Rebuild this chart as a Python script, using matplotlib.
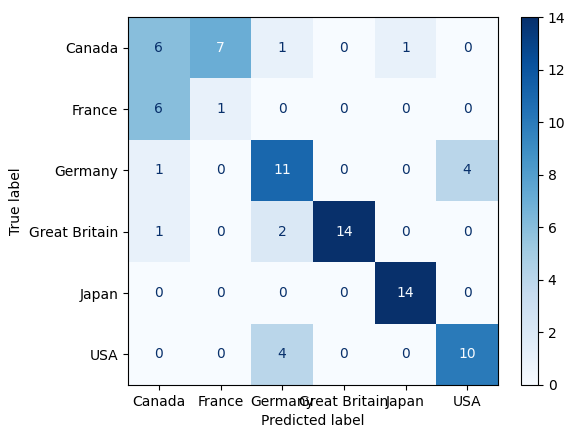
import matplotlib
matplotlib.use("Agg")
import matplotlib.pyplot as plt
import numpy as np

labels = ["Canada", "France", "Germany", "Great Britain", "Japan", "USA"]
cm = np.array([
    [6, 7, 1, 0, 1, 0],
    [6, 1, 0, 0, 0, 0],
    [1, 0, 11, 0, 0, 4],
    [1, 0, 2, 14, 0, 0],
    [0, 0, 0, 0, 14, 0],
    [0, 0, 4, 0, 0, 10],
])

W, H = 578, 438
fig = plt.figure(figsize=(W / 100, H / 100), dpi=100)
ax = fig.add_axes([128 / W, (H - 385) / H, 370 / W, 368 / H])
cax = fig.add_axes([521 / W, (H - 385) / H, 17 / W, 368 / H])

cmap = plt.get_cmap("Blues")
im = ax.imshow(cm, interpolation="nearest", cmap=cmap, aspect="auto")
fig.colorbar(im, cax=cax)

cmap_min, cmap_max = cmap(0), cmap(1.0)
thresh = (cm.max() + cm.min()) / 2.0
for i in range(cm.shape[0]):
    for j in range(cm.shape[1]):
        color = cmap_max if cm[i, j] < thresh else cmap_min
        ax.text(j, i, format(cm[i, j], "d"), ha="center", va="center", color=color)

ax.set_xticks(range(len(labels)))
ax.set_xticklabels(labels)
ax.set_yticks(range(len(labels)))
ax.set_yticklabels(labels)
ax.set_xlabel("Predicted label")
ax.set_ylabel("True label")
ax.set_ylim(len(labels) - 0.5, -0.5)

fig.savefig("out.png", dpi=100)
